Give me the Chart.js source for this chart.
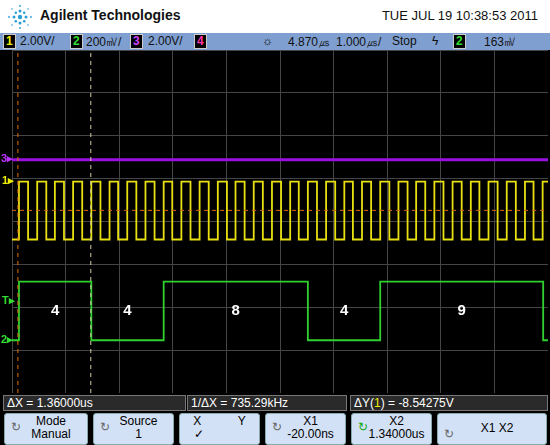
<!DOCTYPE html>
<html>
<head>
<meta charset="utf-8">
<script src="https://cdn.jsdelivr.net/npm/chart.js@4"></script>
<style>
  body { margin: 0; width: 550px; height: 445px; background: #fff; font-family: "Liberation Sans", Arial, sans-serif; position: relative; overflow: hidden; }
  .abs { position: absolute; }
  #header { left: 0; top: 0; width: 550px; height: 33px; background: #fff; }
  #brand { left: 40px; top: 7px; font-size: 14px; font-weight: bold; color: #111; }
  #date { right: 12px; top: 8px; font-size: 13px; color: #111; }
  #status { left: 0; top: 33px; width: 550px; height: 17px; background: #7f9fd0; font-size: 12px; color: #111; }
  #status span { position: absolute; top: 1px; }
  .ch { display: inline-block; background: #000; border: 1px solid #ccc; padding: 0 2px; line-height: 13px; font-weight: bold; }
  #screen { left: 0; top: 50px; width: 550px; height: 343px; background: #000; }
  #wrap { left: 12px; top: 50px; width: 536px; height: 343px; }
  .mk { font-size: 11px; font-weight: bold; }
  #info { left: 0; top: 393px; width: 550px; height: 52px; background: #000; }
  .box { top: 395px; height: 14px; background: #2a2a2a; border: 1px solid #777; color: #fff; font-size: 12px; line-height: 14px; padding-left: 3px; }
  .btn { top: 413px; height: 29px; background: #d3e1f6; border: 1px solid #8aa; border-radius: 3px; color: #000; font-size: 12px; text-align: center; line-height: 13px; padding-top: 1px; }
  .btn i { position: absolute; left: 6px; top: 7px; font-style: normal; color: #666; }
</style>
</head>
<body>
<div id="header" class="abs">
  <svg class="abs" style="left:6px;top:3px" width="28" height="28" viewBox="-14 -14 28 28">
    <g fill="#2a9fd6">
      <circle r="2.2"/><circle cx="0" cy="-6" r="1.5"/><circle cx="0" cy="6" r="1.5"/>
      <circle cx="-6" cy="0" r="1.5"/><circle cx="6" cy="0" r="1.5"/>
      <circle cx="-4.2" cy="-4.2" r="1.3"/><circle cx="4.2" cy="4.2" r="1.3"/>
      <circle cx="4.2" cy="-4.2" r="1.3"/><circle cx="-4.2" cy="4.2" r="1.3"/>
      <circle cx="0" cy="-11" r="0.9"/><circle cx="0" cy="11" r="0.9"/>
      <circle cx="-11" cy="0" r="0.9"/><circle cx="11" cy="0" r="0.9"/>
      <circle cx="-8" cy="-8" r="0.8"/><circle cx="8" cy="8" r="0.8"/>
      <circle cx="8" cy="-8" r="0.8"/><circle cx="-8" cy="8" r="0.8"/>
    </g>
  </svg>
  <div id="brand" class="abs">Agilent Technologies</div>
  <div id="date" class="abs">TUE JUL 19 10:38:53 2011</div>
</div>
<div id="status" class="abs">
  <span style="left:3px"><b class="ch" style="color:#ee0">1</b></span>
  <span style="left:20px">2.00V/</span>
  <span style="left:70px"><b class="ch" style="color:#3d3">2</b></span>
  <span style="left:86px">200㎷/</span>
  <span style="left:130px"><b class="ch" style="color:#c4f">3</b></span>
  <span style="left:148px">2.00V/</span>
  <span style="left:194px"><b class="ch" style="color:#f3a">4</b></span>
  <span style="left:262px">☼</span>
  <span style="left:288px">4.870㎲</span>
  <span style="left:336px">1.000㎲/</span>
  <span style="left:392px">Stop</span>
  <span style="left:432px">ϟ</span>
  <span style="left:453px"><b class="ch" style="color:#3d3">2</b></span>
  <span style="left:484px">163㎷</span>
</div>
<div id="screen" class="abs"></div>
<div id="wrap" class="abs"><canvas id="scope" width="536" height="343"></canvas></div>
<div class="abs mk" style="left:1px;top:152px;color:#b3f">3▸</div>
<div class="abs mk" style="left:2px;top:174px;color:#ee0">1▸</div>
<div class="abs mk" style="left:2px;top:294px;color:#3d3">T▸</div>
<div class="abs mk" style="left:1px;top:333px;color:#3d3">2▸</div>
<div id="info" class="abs"></div>
<div class="abs box" style="left:3px;width:178px">ΔX = 1.36000us</div>
<div class="abs box" style="left:187px;width:155px">1/ΔX = 735.29kHz</div>
<div class="abs box" style="left:350px;width:193px">ΔY(<span style="color:#ee0">1</span>) = -8.54275V</div>
<div class="abs btn" style="left:4px;width:82px"><i>↻</i>&nbsp;&nbsp;&nbsp;Mode<br>&nbsp;&nbsp;&nbsp;Manual</div>
<div class="abs btn" style="left:93px;width:79px"><i>↻</i>&nbsp;&nbsp;&nbsp;Source<br>&nbsp;&nbsp;&nbsp;1</div>
<div class="abs btn" style="left:179px;width:79px">X&nbsp;&nbsp;&nbsp;&nbsp;&nbsp;&nbsp;&nbsp;&nbsp;&nbsp;&nbsp;&nbsp;Y<br>✓&nbsp;&nbsp;&nbsp;&nbsp;&nbsp;&nbsp;&nbsp;&nbsp;&nbsp;&nbsp;&nbsp;&nbsp;</div>
<div class="abs btn" style="left:265px;width:79px"><i>↻</i>&nbsp;&nbsp;&nbsp;X1<br>&nbsp;&nbsp;&nbsp;-20.00ns</div>
<div class="abs btn" style="left:351px;width:79px"><i style="color:#1a1">↻</i>&nbsp;&nbsp;&nbsp;X2<br>&nbsp;&nbsp;&nbsp;1.34000us</div>
<div class="abs btn" style="left:437px;width:108px;line-height:27px"><i>↻</i>&nbsp;&nbsp;&nbsp;X1 X2</div>

<script>
// time axis in us, vertical in divisions (centre = 0)
const xMin = -0.13, xMax = 9.87;

// channel 1 clock edges (us)
const clockRise = [0.00, 0.34, 0.67, 1.01, 1.35, 1.69, 2.02, 2.36, 2.70, 3.03, 3.37, 3.71, 4.04, 4.38, 4.72,
                   5.06, 5.39, 5.73, 6.07, 6.40, 6.74, 7.08, 7.41, 7.75, 8.09, 8.43, 8.76, 9.10, 9.44, 9.77];
const clockFall = [0.17, 0.51, 0.84, 1.18, 1.52, 1.85, 2.19, 2.53, 2.86, 3.20, 3.54, 3.88, 4.21, 4.55, 4.89,
                   5.22, 5.56, 5.90, 6.23, 6.57, 6.91, 7.25, 7.58, 7.92, 8.26, 8.59, 8.93, 9.27, 9.60];
const clockHigh = 0.93, clockLow = -0.42;

// channel 2 data line
const dataTimes = [0.00, 1.35, 2.70, 5.39, 6.74, 9.78];
const dataLevels = [1, 0, 1, 0, 1, 0];   // level after each transition, low before first
const dataHigh = -1.40, dataLow = -2.77;
const bitCounts = ['4', '4', '8', '4', '9'];

// channel 3 flat line, trigger level, cursors
const ch3Level = 1.44;
const trigLevel = 0.26;
const cursorX1 = -0.02, cursorX2 = 1.34;

const clockPts = [{ x: xMin, y: clockLow }];
const edges = clockRise.map(t => ({ t, y: clockHigh })).concat(clockFall.map(t => ({ t, y: clockLow })))
  .sort((a, b) => a.t - b.t);
edges.forEach(e => clockPts.push({ x: e.t, y: e.y }));
clockPts.push({ x: xMax, y: edges[edges.length - 1].y });

const dataPts = [{ x: xMin, y: dataLow }];
dataTimes.forEach((t, i) => dataPts.push({ x: t, y: dataLevels[i] ? dataHigh : dataLow }));
dataPts.push({ x: xMax, y: dataLevels[dataLevels.length - 1] ? dataHigh : dataLow });

const labelPlugin = {
  id: 'bitLabels',
  afterDatasetsDraw(chart) {
    const { ctx, scales: { x, y } } = chart;
    ctx.save();
    ctx.fillStyle = '#fff';
    ctx.font = 'bold 15px "Liberation Sans", Arial';
    ctx.textAlign = 'center';
    ctx.textBaseline = 'middle';
    bitCounts.forEach((c, i) => {
      const mid = (dataTimes[i] + dataTimes[i + 1]) / 2;
      ctx.fillText(c, x.getPixelForValue(mid), y.getPixelForValue(-2.08));
    });
    ctx.restore();
  }
};

new Chart(document.getElementById('scope'), {
  type: 'line',
  data: {
    datasets: [
      { data: [{ x: xMin, y: trigLevel }, { x: xMax, y: trigLevel }], borderColor: '#d06a10', borderWidth: 1, borderDash: [4, 4] },
      { data: [{ x: cursorX1, y: -4 }, { x: cursorX1, y: 4 }], borderColor: '#e07010', borderWidth: 1, borderDash: [4, 4] },
      { data: [{ x: cursorX2, y: -4 }, { x: cursorX2, y: 4 }], borderColor: '#d8ccaa', borderWidth: 1, borderDash: [4, 4] },
      { data: [{ x: xMin, y: ch3Level }, { x: xMax, y: ch3Level }], borderColor: '#9a10e0', borderWidth: 3 },
      { data: clockPts, stepped: 'before', borderColor: '#e8e010', borderWidth: 1.8 },
      { data: dataPts, stepped: 'before', borderColor: '#2fd02f', borderWidth: 1.8 }
    ]
  },
  options: {
    responsive: false,
    animation: false,
    layout: { padding: 0 },
    elements: { point: { radius: 0 } },
    plugins: { legend: { display: false }, tooltip: { enabled: false } },
    scales: {
      x: {
        type: 'linear', min: xMin, max: xMax,
        afterBuildTicks: s => { s.ticks = Array.from({ length: 11 }, (_, i) => ({ value: xMin + i })); },
        ticks: { display: false },
        grid: { color: '#454545', drawTicks: false },
        border: { display: false }
      },
      y: {
        min: -4, max: 4,
        ticks: { display: false, stepSize: 1 },
        grid: { color: '#454545', drawTicks: false },
        border: { display: false }
      }
    }
  },
  plugins: [labelPlugin]
});
</script>
</body>
</html>
